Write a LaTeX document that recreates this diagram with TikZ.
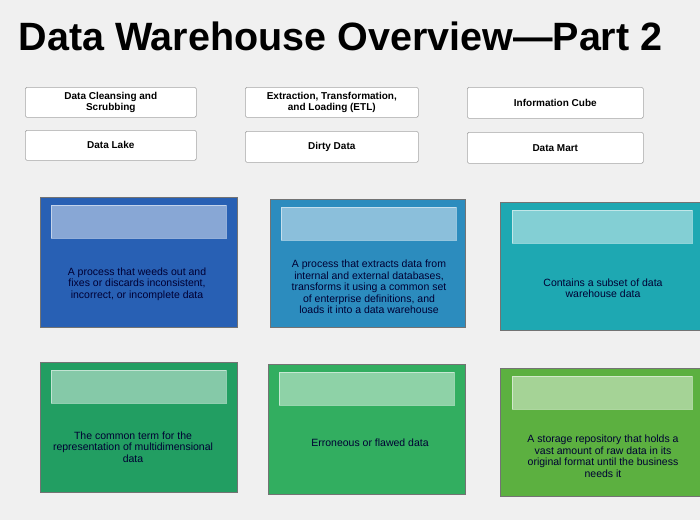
\documentclass[tikz,border=0pt]{standalone}
\usepackage{fontspec}
\setmainfont{Liberation Sans}
\begin{document}
\begin{tikzpicture}[x=1pt,y=-1pt,
lbl/.style={draw=gray!70,fill=white,rounded corners=1.5pt,line width=0.6pt,font=\bfseries\fontsize{10}{11}\selectfont,align=center,anchor=north west,inner sep=0pt},
card/.style={draw=black!55,line width=0.8pt,anchor=north west,inner sep=0pt},
slot/.style={fill=white,fill opacity=0.45,draw=white,draw opacity=0.5,anchor=north west,inner sep=0pt},
ctext/.style={font=\fontsize{10.5}{11.5}\selectfont,align=center,text=black!80!blue}]
\useasboundingbox (0,0) rectangle (700,520);
\fill[gray!12] (0,0) rectangle (700,520);
\node[anchor=west,font=\bfseries\fontsize{39.5}{42}\selectfont] (title) at (15,36) {Data Warehouse Overview---Part 2};
% labels
\node[lbl,minimum width=171pt,minimum height=30pt] (l1) at (25,87) {Data Cleansing and\\Scrubbing};
\node[lbl,minimum width=173pt,minimum height=30pt] (l2) at (245,87) {Extraction, Transformation,\\and Loading (ETL)};
\node[lbl,minimum width=176pt,minimum height=31pt] (l3) at (467,87) {Information Cube};
\node[lbl,minimum width=171pt,minimum height=30pt] (l4) at (25,130) {Data Lake};
\node[lbl,minimum width=173pt,minimum height=31pt] (l5) at (245,131) {Dirty Data};
\node[lbl,minimum width=176pt,minimum height=31pt] (l6) at (467,132) {Data Mart};
% cards
\node[card,fill={rgb,255:red,40;green,96;blue,180},minimum width=197pt,minimum height=130pt] (c1) at (40,197) {};
\node[card,fill={rgb,255:red,44;green,140;blue,190},minimum width=195pt,minimum height=128pt] (c2) at (270,199) {};
\node[card,fill={rgb,255:red,30;green,168;blue,178},minimum width=200pt,minimum height=128pt] (c3) at (500,202) {};
\node[card,fill={rgb,255:red,34;green,158;blue,98},minimum width=197pt,minimum height=130pt] (c4) at (40,362) {};
\node[card,fill={rgb,255:red,50;green,174;blue,96},minimum width=197pt,minimum height=130pt] (c5) at (268,364) {};
\node[card,fill={rgb,255:red,92;green,176;blue,64},minimum width=200pt,minimum height=128pt] (c6) at (500,368) {};
\node[slot,minimum width=175pt,minimum height=33pt] (s1) at (51,205) {};
\node[slot,minimum width=175pt,minimum height=33pt] (s2) at (281,207) {};
\node[slot,minimum width=180pt,minimum height=33pt] (s3) at (512,210) {};
\node[slot,minimum width=175pt,minimum height=33pt] (s4) at (51,370) {};
\node[slot,minimum width=175pt,minimum height=33pt] (s5) at (279,372) {};
\node[slot,minimum width=180pt,minimum height=33pt] (s6) at (512,376) {};
\node[ctext] (t1) at (137,284) {A process that weeds out and\\fixes or discards inconsistent,\\incorrect, or incomplete data};
\node[ctext] (t2) at (369,287) {A process that extracts data from\\internal and external databases,\\transforms it using a common set\\of enterprise definitions, and\\loads it into a data warehouse};
\node[ctext] (t3) at (603,288) {Contains a subset of data\\warehouse data};
\node[ctext] (t4) at (133,447) {The common term for the\\representation of multidimensional\\data};
\node[ctext] (t5) at (370,443) {Erroneous or flawed data};
\node[ctext] (t6) at (603,456) {A storage repository that holds a\\vast amount of raw data in its\\original format until the business\\needs it};
\end{tikzpicture}
\end{document}
